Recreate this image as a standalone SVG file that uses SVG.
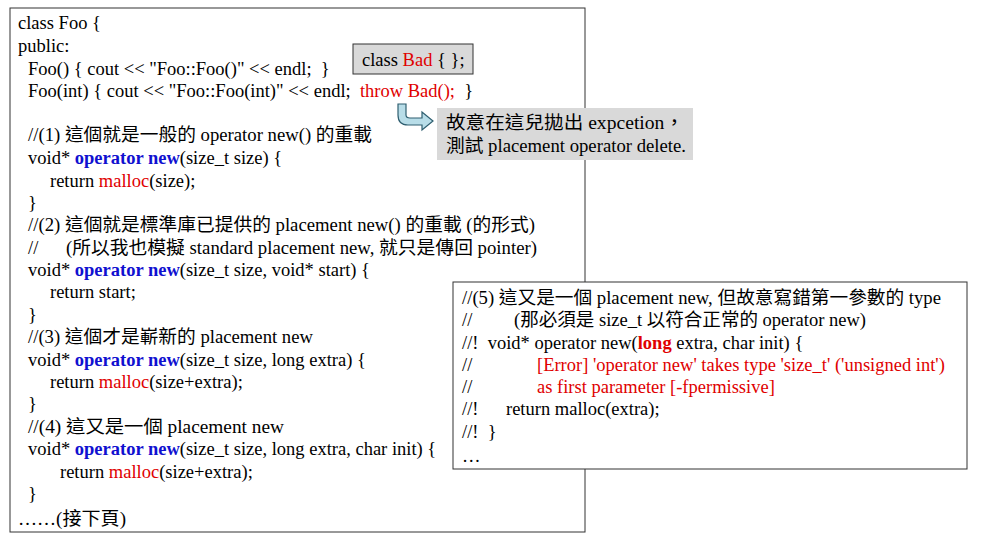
<svg xmlns="http://www.w3.org/2000/svg" width="989" height="545" viewBox="0 0 989 545">
<style>
text{font-family:"Liberation Serif","Noto Sans CJK TC",serif;font-size:18.5px;fill:#000;white-space:pre}
.r{fill:#e00000}.b{fill:#1010d0;font-weight:bold}.rb{fill:#e00000;font-weight:bold}
.box{fill:#fff;stroke:#333;stroke-width:1}
</style>
<rect width="989" height="545" fill="#fff"/>
<g id="code-left">
<rect class="box" x="10" y="8" width="575" height="524"/>
<text x="18" y="29">class Foo {</text>
<text x="18" y="52">public:</text>
<text x="28" y="75">Foo() { cout &lt;&lt; "Foo::Foo()" &lt;&lt; endl;  }</text>
<text x="28" y="97">Foo(int) { cout &lt;&lt; "Foo::Foo(int)" &lt;&lt; endl;  <tspan class="r">throw Bad();</tspan>  }</text>
<text x="28" y="141" textLength="344" lengthAdjust="spacingAndGlyphs">//(1) 這個就是一般的 operator new() 的重載</text>
<text x="28" y="164">void* <tspan class="b">operator new</tspan>(size_t size) {</text>
<text x="50" y="187">return <tspan class="r">malloc</tspan>(size);</text>
<text x="28" y="209">}</text>
<text x="28" y="231" textLength="507" lengthAdjust="spacingAndGlyphs">//(2) 這個就是標準庫已提供的 placement new() 的重載 (的形式)</text>
<text x="28" y="254">//</text>
<text x="66" y="254" textLength="471" lengthAdjust="spacingAndGlyphs">(所以我也模擬 standard placement new, 就只是傳回 pointer)</text>
<text x="28" y="276">void* <tspan class="b">operator new</tspan>(size_t size, void* start) {</text>
<text x="50" y="298">return start;</text>
<text x="28" y="321">}</text>
<text x="28" y="343" textLength="285" lengthAdjust="spacingAndGlyphs">//(3) 這個才是嶄新的 placement new</text>
<text x="28" y="366">void* <tspan class="b">operator new</tspan>(size_t size, long extra) {</text>
<text x="50" y="388">return <tspan class="r">malloc</tspan>(size+extra);</text>
<text x="28" y="410">}</text>
<text x="28" y="433" textLength="256" lengthAdjust="spacingAndGlyphs">//(4) 這又是一個 placement new</text>
<text x="28" y="455">void* <tspan class="b">operator new</tspan>(size_t size, long extra, char init) {</text>
<text x="60" y="478">return <tspan class="r">malloc</tspan>(size+extra);</text>
<text x="28" y="500">}</text>
<text x="18" y="525" textLength="108" lengthAdjust="spacingAndGlyphs">……(接下頁)</text>
</g>
<g id="bad-box">
<rect x="353" y="44" width="120" height="30" fill="#d9d9d9" stroke="#333"/>
<text x="362" y="66">class <tspan class="r">Bad</tspan> { };</text>
</g>
<g id="note">
<rect x="437" y="108" width="256" height="52" fill="#d9d9d9"/>
<text x="446" y="129" textLength="238" lengthAdjust="spacingAndGlyphs">故意在這兒拋出 expcetion，</text>
<text x="446" y="152" textLength="240" lengthAdjust="spacingAndGlyphs">測試 placement operator delete.</text>
</g>
<g id="connectors">
<path d="M398,104 L406,104 L406,115 Q406,118 410,118 L422,118 L422,112 L433,121 L422,130 L422,125 L408,125 Q398,125 398,115 Z" fill="#b8dde8" stroke="#2f5f70" stroke-width="1.2"/>
</g>
<g id="code-right">
<rect class="box" x="453" y="282" width="514" height="187"/>
<text x="462" y="304" textLength="479" lengthAdjust="spacingAndGlyphs">//(5) 這又是一個 placement new, 但故意寫錯第一參數的 type</text>
<text x="462" y="326">//</text>
<text x="514" y="326" textLength="352" lengthAdjust="spacingAndGlyphs">(那必須是 size_t 以符合正常的 operator new)</text>
<text x="462" y="349">//!  void* operator new(<tspan class="rb">long</tspan> extra, char init) {</text>
<text x="462" y="371">//<tspan x="537" class="r">[Error] 'operator new' takes type 'size_t' ('unsigned int')</tspan></text>
<text x="462" y="393">//<tspan x="537" class="r">as first parameter [-fpermissive]</tspan></text>
<text x="462" y="415">//!<tspan x="506">return malloc(extra);</tspan></text>
<text x="462" y="438">//!  }</text>
<text x="462" y="462">…</text>
</g>
</svg>
